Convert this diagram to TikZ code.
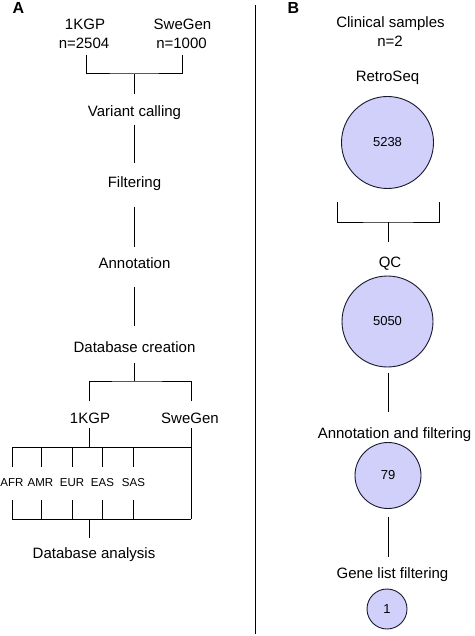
\documentclass[tikz,border=0pt]{standalone}
\usepackage{fontspec}
\setmainfont{Liberation Sans}
\usetikzlibrary{calc}
\definecolor{circfill}{RGB}{208,208,250}
\definecolor{circline}{RGB}{25,25,45}
\tikzset{
  lbl/.style={anchor=base, inner sep=0pt, font=\fontsize{15}{18}\selectfont},
  small/.style={anchor=base, inner sep=0pt, font=\fontsize{11.5}{14}\selectfont},
  panel/.style={anchor=base, inner sep=0pt, font=\fontsize{16}{18}\selectfont\bfseries},
  venn/.style={circle, draw=circline, fill=circfill, line width=0.9pt, inner sep=0pt, font=\fontsize{13}{15}\selectfont},
  conn/.style={line width=1pt, black}
}
\begin{document}
\begin{tikzpicture}[x=1pt,y=-1pt]
\useasboundingbox (0,0) rectangle (474,636);
\fill[white] (0,0) rectangle (474,636);

% panel labels and divider
\node[panel] (pa) at (18.5,14) {A};
\node[panel] (pb) at (293.5,14) {B};
\coordinate (divtop) at (255,5);
\coordinate (divbot) at (255,634);
\draw[conn] (divtop) -- (divbot);

% ---------- Panel A ----------
\node[lbl] (kgp) at (85,30) {1KGP};
\node[lbl] (kgpn) at (84,49) {n=2504};
\node[lbl] (swe) at (182.5,30) {SweGen};
\node[lbl] (swen) at (181.5,49) {n=1000};
\node[lbl] (vc) at (134.5,117) {Variant calling};
\node[lbl] (fi) at (134.5,188) {Filtering};
\node[lbl] (an) at (134.5,268) {Annotation};
\node[lbl] (dc) at (134.5,352) {Database creation};
\node[lbl] (kgp2) at (90,423) {1KGP};
\node[lbl] (swe2) at (190,423) {SweGen};
\node[small] (afr) at (12,486) {AFR};
\node[small] (amr) at (40.5,486) {AMR};
\node[small] (eur) at (72,486) {EUR};
\node[small] (eas) at (102.5,486) {EAS};
\node[small] (sas) at (133.5,486) {SAS};
\node[lbl] (da) at (94,558) {Database analysis};

% top bracket
\coordinate (b1l) at (86,55);
\coordinate (b1r) at (182,55);
\coordinate (b1j) at (134,74);
\coordinate (b1s) at (134,94);
\draw[conn] (b1l) |- (b1j) -| (b1r);
\draw[conn] (b1j) -- (b1s);

% pipeline
\draw[conn] (134,125) -- (134,163);
\draw[conn] (134,207) -- (134,247);
\draw[conn] (134,287) -- (134,326);

% split to 1KGP / SweGen
\coordinate (b2t) at (134,363);
\coordinate (b2j) at (134,381);
\coordinate (b2l) at (89,401);
\coordinate (b2r) at (191,401);
\draw[conn] (b2t) -- (b2j);
\draw[conn] (b2l) |- (b2j) -| (b2r);

% 1KGP to populations
\coordinate (b3t) at (89,428);
\coordinate (b3j) at (89,447);
\draw[conn] (b3t) -- (b3j);
\draw[conn] (12,467) |- (191,447);
\foreach \xx in {41,72,102,133}{\draw[conn] (\xx,447) -- (\xx,467);}

% SweGen long line
\coordinate (swt) at (191,428);
\coordinate (swb) at (191,519);
\draw[conn] (swt) -- (swb);

% bottom bracket
\foreach \xx in {41,72,102,133}{\draw[conn] (\xx,500) -- (\xx,519);}
\draw[conn] (12,500) |- (swb);
\coordinate (b4j) at (89,519);
\coordinate (b4s) at (89,538);
\draw[conn] (b4j) -- (b4s);

% ---------- Panel B ----------
\node[lbl] (cs) at (390.5,28) {Clinical samples};
\node[lbl] (cn) at (390,47) {n=2};
\node[lbl] (rs) at (387.5,82) {RetroSeq};
\node[venn, minimum size=92pt] (c1) at (387.5,142.5) {5238};
\node[lbl] (qc) at (390,267) {QC};
\node[venn, minimum size=91pt] (c2) at (387.5,321.5) {5050};
\node[lbl] (af) at (394.5,438) {Annotation and filtering};
\node[venn, minimum size=66pt] (c3) at (388,475.5) {79};
\node[lbl] (gl) at (392.5,578) {Gene list filtering};
\node[venn, minimum size=40pt] (c4) at (387,609) {1};

% bracket under circle 1
\coordinate (b5l) at (337,202);
\coordinate (b5r) at (439,202);
\coordinate (b5j) at (388,222);
\coordinate (b5s) at (388,242);
\draw[conn] (b5l) |- (b5j) -| (b5r);
\draw[conn] (b5j) -- (b5s);

\draw[conn] (388,373) -- (388,412);
\draw[conn] (388,517) -- (388,557);
\end{tikzpicture}
\end{document}
